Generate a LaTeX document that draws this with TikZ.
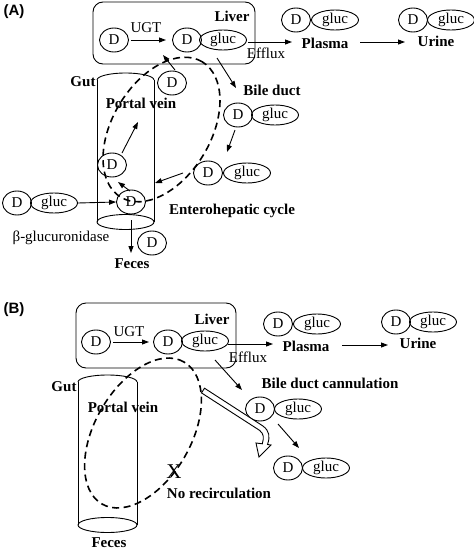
\documentclass[tikz,border=0pt]{standalone}
\usepackage{fontspec}
\setmainfont{Liberation Serif}
\newfontfamily\labelsans{Liberation Sans}
\usetikzlibrary{arrows.meta,shapes.geometric}
\begin{document}
\begin{tikzpicture}[x=1pt,y=-1pt,line width=0.9pt,
  every node/.style={font=\fontsize{15}{18}\selectfont},
  dmol/.style={ellipse,draw,minimum width=29pt,minimum height=24pt,inner sep=0pt},
  gmol/.style={ellipse,draw,minimum width=47pt,minimum height=20pt,inner sep=0pt},
  lbl/.style={font=\fontsize{15}{18}\selectfont\bfseries},
  txt/.style={font=\fontsize{15}{18}\selectfont},
  arr/.style={-{Triangle[length=7pt,width=5pt]}},
  loopline/.style={line width=1.6pt,dash pattern=on 7pt off 4.5pt},
  organ/.style={draw,rounded corners=10pt},
  panel/.style={font=\labelsans\fontsize{15}{18}\selectfont\bfseries}]
\useasboundingbox (0,0) rectangle (474,552);

% ================= Panel A =================
\node[panel] (pA) at (14,12) {(A)};
\draw[organ] (93,2) rectangle (255,64);
\node[lbl] (livA) at (232,16) {Liver};
\node[dmol] (a1) at (114,40) {D};
\node[txt] (ugtA) at (146,28) {UGT};
\node[gmol] (a2g) at (223,40) {gluc};
\node[dmol] (a2) at (187,40) {D};
\draw[arr] (a1.east) ++(2,0) coordinate (a1e) -- (166,40) coordinate (a2w);

\coordinate (effA1) at (248,42);
\coordinate (effA2) at (292,42);
\draw[arr] (effA1) -- (effA2);
\node[txt] (effluxA) at (266,53) {Efflux};
\node[lbl] (plA) at (325,43) {Plasma};
\node[gmol] (plAg) at (335,20) {gluc};
\node[dmol] (plAd) at (296,20) {D};
\coordinate (urA1) at (360,42);
\coordinate (urA2) at (405,42);
\draw[arr] (urA1) -- (urA2);
\node[lbl] (urA) at (436,41) {Urine};
\node[gmol] (urAg) at (451,20) {gluc};
\node[dmol] (urAd) at (413,20) {D};

\coordinate (bdA1) at (217,58);
\coordinate (bdA2) at (236,88);
\draw[arr] (bdA1) -- (bdA2);
\node[lbl] (bdA) at (272,90) {Bile duct};
\node[gmol] (b1g) at (275,115) {gluc};
\node[dmol] (b1) at (238,115) {D};
\coordinate (b1s) at (235,130);
\coordinate (b2t) at (227,152);
\draw[arr] (b1s) -- (b2t);
\node[gmol] (b2g) at (247,173) {gluc};
\node[dmol] (b2) at (208,173) {D};
\coordinate (b2s) at (183,173);
\coordinate (gutw) at (155,183);
\draw[arr] (b2s) -- (gutw);
\node[lbl] (ehc) at (232,211) {Enterohepatic cycle};

% gut cylinder A
\draw (97,80) -- (97,222);
\draw (154,80) -- (154,222);
\draw (97,80) arc[start angle=180,end angle=0,x radius=28.5pt,y radius=7pt];
\draw (125.5,222) ellipse[x radius=28.5pt,y radius=7.5pt];
\node[lbl] (gutA) at (83,82) {Gut};
\node[lbl] (pvA) at (141,103) {Portal vein};

\node[dmol] (dr) at (172,83) {D};
\coordinate (drs) at (175,70);
\coordinate (drt) at (163,55);
\draw[arr] (drs) -- (drt);

\node[dmol] (g1) at (112,165) {D};
\coordinate (g1s) at (122,153);
\coordinate (g1t) at (138,122);
\draw[arr] (g1s) -- (g1t);
\node[dmol] (g2) at (131,202) {D};
\coordinate (g2s) at (130,191);
\coordinate (g2t) at (118,182);
\draw[arr] (g2s) -- (g2t);

\node[gmol] (lg) at (54,203) {gluc};
\node[dmol] (ld) at (17,203) {D};
\draw[arr] (lg.east) -- (g2.west);
\node[txt] (bglu) at (61,238) {β-glucuronidase};

\coordinate (fA1) at (131,220);
\coordinate (fA2) at (131,253);
\draw[arr] (fA1) -- (fA2);
\node[dmol] (fd) at (152,243) {D};
\node[lbl] (fecA) at (132,264) {Feces};

\draw[loopline,rotate around={59:(161.5,129.5)}] (161.5,129.5) ellipse[x radius=79pt,y radius=49pt];

% ================= Panel B =================
\node[panel] (pB) at (14,310) {(B)};
\draw[organ] (76,303) rectangle (236,368);
\node[lbl] (livB) at (212,319) {Liver};
\node[dmol] (c1) at (96,342) {D};
\node[txt] (ugtB) at (129,332) {UGT};
\node[gmol] (c2g) at (205,341) {gluc};
\node[dmol] (c2) at (168,342) {D};
\draw[arr] (c1.east) ++(2,0) coordinate (c1e) -- (149,342) coordinate (c2w);

\coordinate (effB1) at (228,344);
\coordinate (effB2) at (273,344);
\draw[arr] (effB1) -- (effB2);
\node[txt] (effluxB) at (248,357) {Efflux};
\node[lbl] (plB) at (306,346) {Plasma};
\node[gmol] (plBg) at (317,324) {gluc};
\node[dmol] (plBd) at (278,324) {D};
\coordinate (urB1) at (342,345);
\coordinate (urB2) at (388,345);
\draw[arr] (urB1) -- (urB2);
\node[lbl] (urB) at (418,343) {Urine};
\node[gmol] (urBg) at (433,322) {gluc};
\node[dmol] (urBd) at (396,322) {D};

\coordinate (bdB1) at (215,360);
\coordinate (bdB2) at (242,390);
\draw[arr] (bdB1) -- (bdB2);
\node[lbl] (bdc) at (330,383) {Bile duct cannulation};
\node[gmol] (e1g) at (298,409) {gluc};
\node[dmol] (e1) at (260,409) {D};
\coordinate (e1s) at (278,424);
\coordinate (e2t) at (299,448);
\draw[arr] (e1s) -- (e2t);
\node[gmol] (e2g) at (326,468) {gluc};
\node[dmol] (e2) at (288,468) {D};

% hollow bent arrow
\draw[fill=white] (204.5,388.2) -- (262.5,425.7)
  .. controls (270,431) and (270,437) .. (267.5,444.5)
  -- (271,445) -- (259,457) -- (256,443) -- (262.3,443.8)
  .. controls (264,437.5) and (264,434) .. (259.5,430.3)
  -- (201.5,392.9) -- cycle;

% gut cylinder B
\draw (78,382) -- (78,525);
\draw (137,382) -- (137,525);
\draw (78,382) arc[start angle=180,end angle=0,x radius=29.5pt,y radius=7pt];
\draw (107.5,525) ellipse[x radius=29.5pt,y radius=7.5pt];
\node[lbl] (gutB) at (64,387) {Gut};
\node[lbl] (pvB) at (123,407) {Portal vein};

\draw[loopline,rotate around={60:(143,433)}] (143,433) ellipse[x radius=82pt,y radius=48pt];
\node[font=\fontsize{21}{24}\selectfont] (xm) at (174,472) {X};
\node[lbl] (norec) at (219,493) {No recirculation};
\node[lbl] (fecB) at (109,543) {Feces};
\end{tikzpicture}
\end{document}
